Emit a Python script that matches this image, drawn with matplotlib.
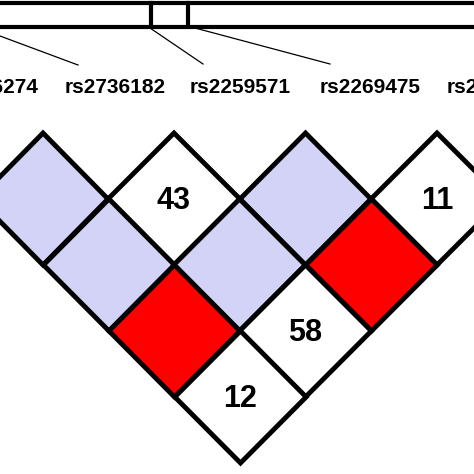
import matplotlib.pyplot as plt
from matplotlib.patches import Polygon, Rectangle

# LD plot data
snp_names = ['rs2736274', 'rs2736182', 'rs2259571', 'rs2269475', 'rs2269476']
snp_x = [-22, 108, 240, 371, 503]
label_x = [-12, 115, 240, 370, 497]
pairs = [(0, 1), (1, 2), (2, 3), (3, 4), (0, 2), (1, 3), (2, 4), (0, 3), (1, 4), (0, 4)]
pair_values = [None, 43, None, 11, None, None, None, None, 58, 12]
pair_colors = ['#d3d3f7', 'white', '#d3d3f7', 'white', '#d3d3f7', '#d3d3f7', '#ff0000',
               '#ff0000', 'white', 'white']

fig = plt.figure(figsize=(4.74, 4.74), dpi=100)
ax = fig.add_axes([0, 0, 1, 1])
ax.set_xlim(0, 474)
ax.set_ylim(474, 0)
ax.axis('off')

# gene bar on top
ax.add_patch(Rectangle((-10, 3), 500, 24, facecolor='white', edgecolor='black', lw=3))
for x in [151, 188]:
    ax.plot([x, x], [3, 26], color='black', lw=3)
ax.plot([0, 78], [36, 65], color='black', lw=0.9)
ax.plot([150, 203], [28, 64], color='black', lw=0.9)
ax.plot([195, 330], [28, 64], color='black', lw=0.9)

for name, x in zip(snp_names, label_x):
    ax.text(x, 87, name, ha='center', va='center', fontsize=15, fontweight='bold',
            family='Liberation Sans')

h = 66
top = 133
for (i, j), val, col in zip(pairs, pair_values, pair_colors):
    cx = (snp_x[i] + snp_x[j]) / 2
    cy = top + h * (j - i)
    half = (snp_x[j] - snp_x[i]) / (2 * (j - i))
    poly = Polygon([(cx, cy - h), (cx + half, cy), (cx, cy + h), (cx - half, cy)],
                   closed=True, facecolor=col, edgecolor='black', lw=3.5, joinstyle='miter')
    ax.add_patch(poly)
    if val is not None:
        ax.text(cx, cy + 2, str(val), ha='center', va='center', fontsize=22,
                fontweight='bold', family='Liberation Sans')

fig.savefig('out.png', dpi=100)
